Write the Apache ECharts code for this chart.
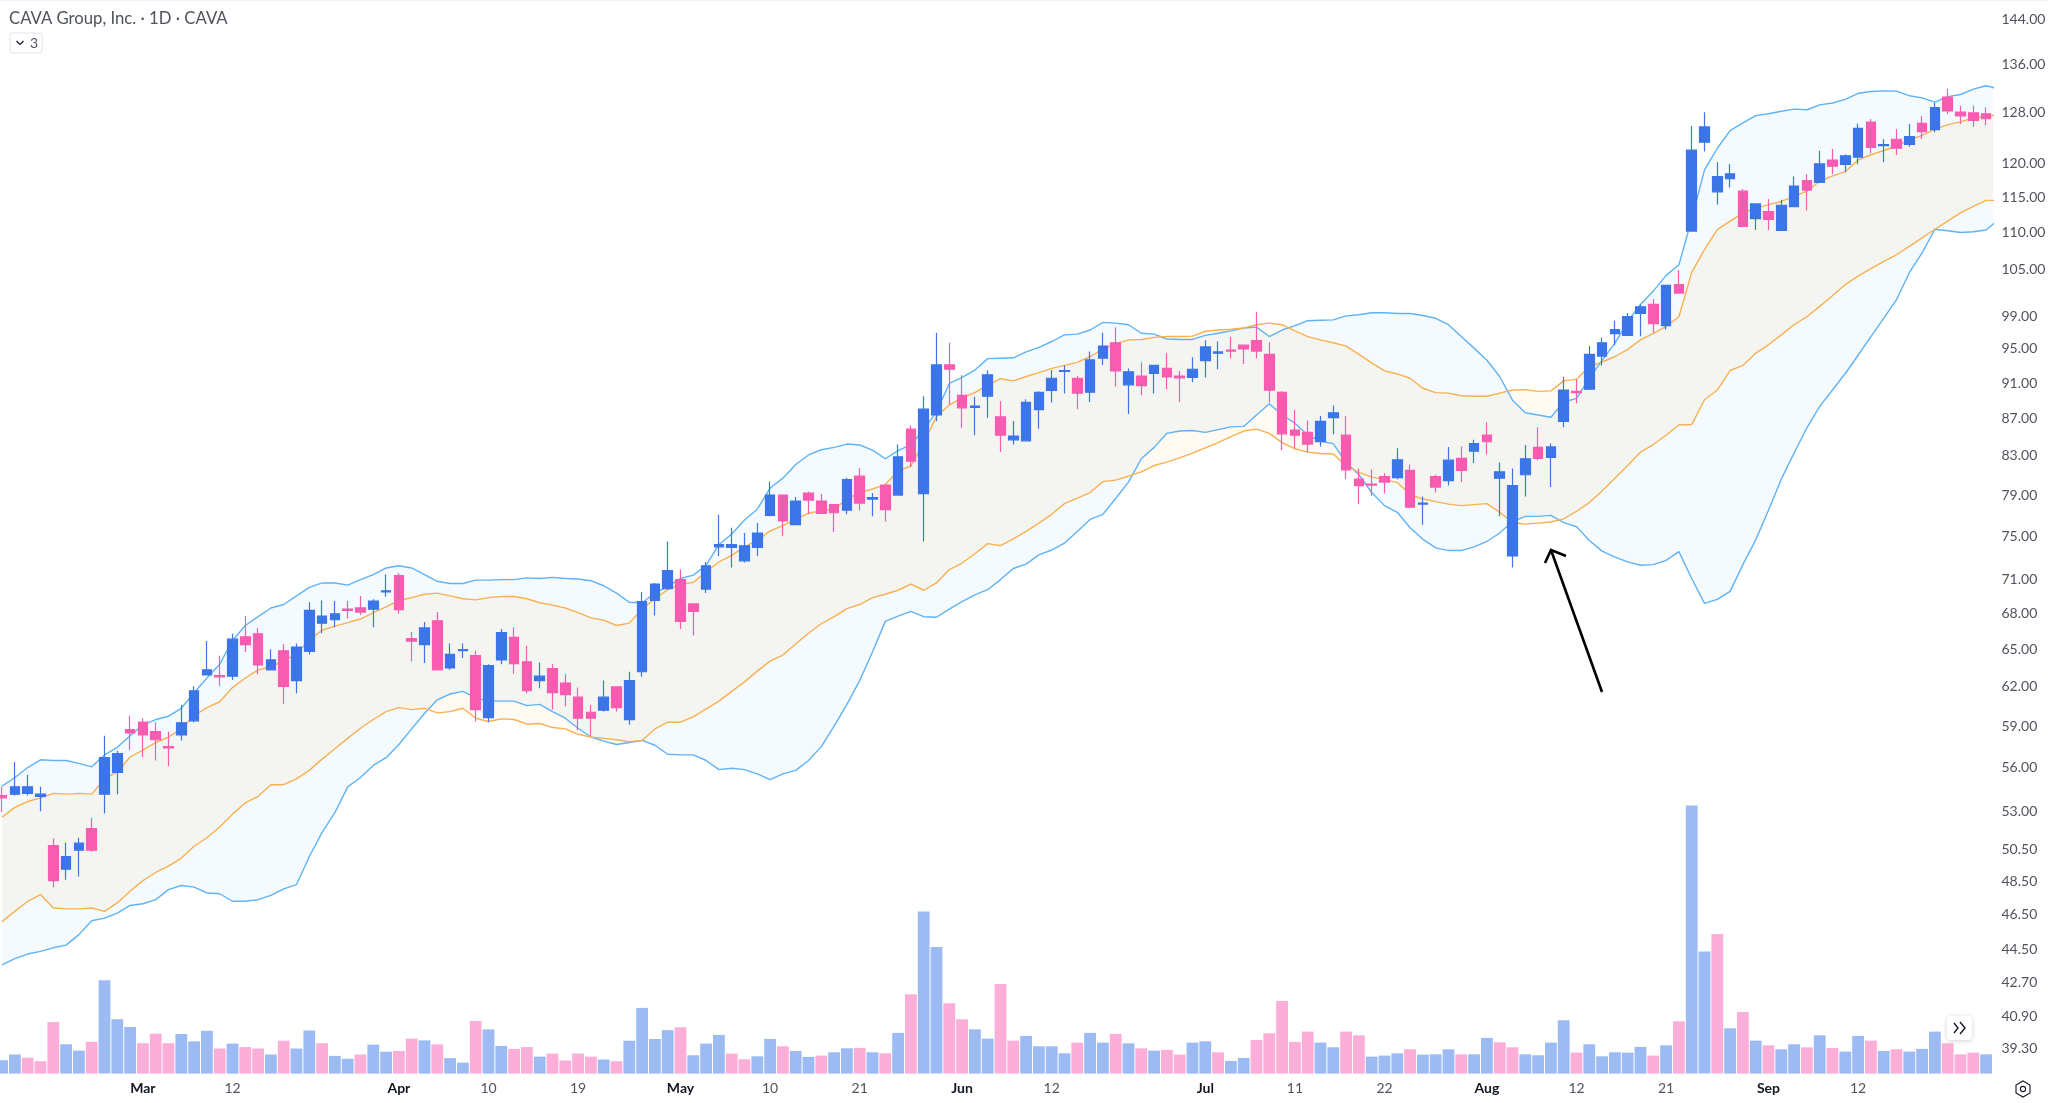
<!DOCTYPE html>
<html>
<head>
<meta charset="utf-8">
<title>CAVA Group, Inc.</title>
<style>
    html, body { margin: 0; padding: 0; background: #fff; }
    #chart { width: 2048px; height: 1103px; }
</style>
<script src="https://cdn.jsdelivr.net/npm/echarts@6/dist/echarts.min.js"></script>
</head>
<body>
<div id="chart"></div>
<script>
const opens = [54.05,54.15,54.2,54,50.75,49.25,50.45,51.85,54.15,55.65,
    58.75,59.3,58.6,57.5,58.35,59.4,62.95,62.9,62.85,66.05,
    66.3,63.35,64.9,62.5,64.85,67.2,67.5,68.4,68.5,68.4,
    69.9,71.35,65.9,65.4,67.4,63.5,64.9,64.5,59.65,64.15,
    66,64,62.5,63.45,62.3,61.2,60.05,60.2,62,59.5,
    63.2,69.15,70.2,71,68.85,70.15,74,73.95,72.7,73.95,
    77,79,76.1,79.2,78.4,78.05,77.5,80.9,78.6,80,
    79,85.85,79.15,87.4,93.1,89.6,88.25,89.5,87.2,84.7,
    84.6,88,90.15,92.35,91.55,89.95,93.9,95.75,90.8,91.8,
    92.1,92.7,91.8,91.65,93.6,94.5,94.85,95.45,96,94.35,
    89.95,85.75,85.5,84.5,87.1,85.2,80.6,80.1,80.85,80.75,
    81.5,78.1,80.85,80.45,82.75,83.5,85.2,80.7,73.15,81.05,
    83.9,82.85,86.7,90.05,90.3,94.15,96.85,96.65,99.35,100.5,
    97.85,103.05,110.25,123.35,115.85,117.8,115.95,112,113,110.35,
    113.7,117.5,117.25,120.6,119.95,121.05,126.5,122.8,123.8,123,
    126.3,125.3,130.55,128.1,128,127.85];
const closes = [53.9,54.65,54.65,54.15,48.55,50.05,50.9,50.45,56.7,57,
    58.5,58.35,58,57.4,59.25,61.7,63.35,62.8,65.85,65.4,
    63.75,64.15,62.05,65.2,68.3,67.8,68,68.3,68.15,69.1,
    70,68.35,65.7,66.8,63.35,64.6,65,60.25,63.7,66.4,
    63.85,61.7,62.85,61.55,61.4,59.6,59.6,61.2,60.4,62.5,
    69.05,70.6,71.8,67.35,68.2,72.25,74.2,74.2,74.1,75.3,
    79,76.45,78.4,78.5,77.2,77.25,80.55,78.2,78.75,77.55,
    82.9,82.45,88.05,93.1,92.6,88.2,88.4,91.95,85.2,85.1,
    88.8,89.95,91.55,92.45,89.85,93.7,95.35,92.4,92.3,90.7,
    93.05,91.7,91.6,92.6,95.25,94.65,94.75,95,94.75,90.2,
    85.35,85.2,84.25,86.7,87.65,81.55,79.95,80,80.3,82.6,
    77.8,78.2,79.8,82.55,81.5,84.3,84.5,81.35,79.95,82.7,
    82.75,83.95,90.2,89.9,94.35,95.75,97.35,98.95,100.2,98.1,
    102.95,101.95,122.1,125.75,118.1,118.5,110.9,114.1,111.9,113.9,
    116.7,116.1,120,119.65,121.25,125.5,122.55,122.95,122.4,124.2,
    125,128.85,128.3,127.5,126.8,127.05];
const highs = [54.65,56.4,55.5,54.65,51.2,50.95,51.25,52.55,58.3,57.2,
    59.8,59.6,59.3,58.6,60.6,62.05,65.7,64.5,66.3,67.8,
    66.8,65,65.45,65.5,69,69.15,69.1,69.1,69.55,69.25,
    71.45,71.6,66.45,67.3,68.15,65.5,65.5,64.9,63.8,66.7,
    66.85,65.3,63.95,63.8,63,61.95,60.6,62.5,62,63.2,
    69.9,70.7,74.5,71.9,68.9,72.6,77.05,75.8,75.3,76.25,
    80.35,79,78.8,79.35,79.1,78.05,80.75,81.75,79.2,80,
    84.2,86.25,89.5,96.95,95.75,91.9,89.45,92.45,88.95,86.75,
    89.15,90.05,92.5,93.05,91.8,94.7,96.95,97.65,92.7,93.4,
    93.1,94.5,92.4,94,96.05,95.9,96.45,95.45,99.55,95.8,
    90.05,87.95,86.8,87.3,88.45,87.3,81.7,81.6,81.2,83.8,
    82.1,78.85,81.05,83.95,84,84.7,86.6,82.3,81.7,84.15,
    86.05,84.3,91.7,91.45,95.35,96.4,98.45,99.4,100.5,101.2,
    102.95,104.95,125.9,128.1,120.25,119.95,116.25,114.1,114.8,114.7,
    118.1,118.45,122,122.3,121.45,126.25,127,123.8,125.4,126.15,
    127.5,129.65,131.95,129.15,129.15,128.9];
const lows = [52.95,54.05,54.05,53,48.15,48.6,48.8,50.35,52.85,54.15,
    57.25,56.75,56.5,56.1,57.95,59.3,62.95,62.1,62.55,64.8,
    63,63.3,60.7,61.5,64.6,66.35,66.85,67.6,67.9,66.85,
    69.5,68,64.05,63.9,63.3,63.35,64.3,59.35,59.3,63.8,
    63.05,61.5,61.9,60.25,60.5,58.7,58.3,60.1,60.1,59.1,
    62.8,67.85,70.1,66.7,66.15,69.8,73.15,72.1,72.55,73.15,
    76.9,75,76.1,77.1,77.2,75.4,77.1,77.5,76.9,76.4,
    79,81.85,74.5,86.7,88.6,86,85.2,87.1,83.4,84.2,
    84.6,85.9,88.8,89.8,88.05,88.85,93.1,90.6,87.5,89.6,
    89.8,90.3,88.85,91.1,91.65,92.6,93.9,93.2,93.85,88.8,
    83.6,83.8,83.35,84,85.3,80.6,78.1,78.9,79.15,80.6,
    77.7,76.1,79.25,79.95,80.3,82.25,83.15,76.9,72.1,78.85,
    82.55,79.8,86.05,88.7,90.3,93.05,95.45,96.65,96.55,96.95,
    97.35,101.95,110.15,121.9,114,116.5,110.9,110.4,110.4,110.35,
    113.7,113.15,117.25,118.45,118.75,119.95,121.65,120.25,121.35,122.65,
    123.85,124.9,127.8,126.2,125.8,126];

const volumes = [1.34,1.91,1.59,1.24,5.16,2.93,2.3,3.18,9.33,5.44,
    4.66,3.04,3.99,3.04,3.96,3.22,4.28,2.51,3,2.65,
    2.51,1.91,3.29,2.51,4.31,3.04,1.77,1.48,1.91,2.9,
    2.19,2.26,3.5,3.32,2.93,1.55,1.1,5.27,4.42,2.76,
    2.47,2.65,1.7,2.01,1.31,2.01,1.7,1.41,1.24,3.29,
    6.57,3.46,4.35,4.63,1.83,3,3.87,2,1.43,1.73,
    3.47,2.73,2.27,1.67,1.8,2.13,2.53,2.57,2.13,2.03,
    4.07,7.93,16.2,12.67,7.03,5.43,4.43,3.5,8.97,3.3,
    3.77,2.73,2.73,2.03,3.1,4.07,3.1,3.97,3.03,2.53,
    2.3,2.37,1.9,3.1,3.23,2.13,1.27,1.57,3.37,4.03,
    7.27,3.17,4.2,3.1,2.63,4.2,3.83,1.7,1.8,2.03,
    2.43,1.9,1.93,2.43,1.93,1.93,3.57,3.13,2.63,1.93,
    1.83,3.1,5.33,2.1,2.93,1.73,2.13,2.1,2.67,1.8,
    2.83,5.23,26.8,12.2,13.97,4.53,6.17,3.3,2.83,2.43,
    2.93,2.63,3.83,2.57,2.2,3.77,3.3,2.27,2.43,2.2,
    2.47,4.2,3.03,1.93,2.1,1.93];
// 1 = blue bar, 0 = pink bar (follows close against previous close, not the candle)
const volumeUp = [1,1,0,0,0,1,1,0,1,1,1,0,0,0,1,1,1,0,1,0,0,1,0,1,1,0,1,1,0,1,1,0,0,1,0,1,1,0,1,1,0,0,1,0,0,0,0,1,0,1,1,1,1,
    0,1,1,1,0,0,1,1,0,1,1,0,1,1,0,1,0,1,0,1,1,0,0,1,1,0,0,1,1,1,1,0,1,1,0,1,0,1,0,0,1,1,0,1,1,0,0,0,0,0,1,1,0,0,
    1,1,1,0,1,1,1,0,1,1,0,0,1,1,1,1,0,1,1,1,1,1,0,1,0,1,1,0,1,0,1,0,1,1,0,1,0,1,1,0,1,0,1,1,1,0,0,0,1];

const bbUpper = [54.7,55.3,56,56.55,56.5,56.5,56.3,56.05,56.9,57.45,
    58.3,59.1,59.5,59.75,60.35,61.55,62.7,63.8,65.75,67,
    67.75,68.5,68.8,69.55,70.3,70.7,70.7,70.5,71,71.45,
    72.05,72.25,72.05,71.45,70.85,70.65,70.65,70.95,70.95,71,
    71,71.15,71.1,71.2,71.1,71.05,70.9,70.45,69.8,69,
    68.95,69.8,70.4,71.1,71.4,72.3,74.2,75.2,76.55,77.6,
    79.7,80.7,82.1,83.1,83.65,83.9,84.25,84.15,83.6,82.7,
    83.55,84.2,85.8,87.75,90.95,91.65,92.5,93.85,93.9,93.95,
    94.65,95.2,95.9,96.7,96.8,97.3,98.25,98.15,97.95,96.9,
    96.8,96.2,96.15,96.15,96.65,96.9,97.2,97.55,97.65,96.5,
    97.3,97.85,98.45,98.5,98.55,99.05,99.2,99.45,99.45,99.35,
    99.35,99.1,98.75,97.95,96.5,95.1,93.65,91.75,89.05,87.65,
    87.4,87.15,88.85,89.25,91.55,93.65,95.7,98.35,100.5,102.2,
    104.25,105.65,111.95,119.1,122.4,125.15,126.4,127.55,127.85,128.25,
    128.6,128.5,129.3,129.6,130.2,131.2,131.5,131.6,131.55,130.8,
    130.45,129.75,130.65,131,131.9,132.45,131.9];
const bbLower = [43.65,44,44.25,44.4,44.6,44.75,45.35,46.15,46.3,46.6,
    47.05,47.15,47.4,48,48.25,48.15,47.8,47.75,47.3,47.3,
    47.4,47.65,48.05,48.3,50.05,51.6,52.9,54.65,55.3,56.15,
    56.7,57.65,58.8,59.95,61,61.45,61.65,61.15,60.9,60.9,
    60.9,60.55,60.65,60.1,59.6,58.85,58.2,57.9,57.65,57.8,
    57.95,57.6,56.95,56.9,56.9,56.5,55.85,55.95,55.85,55.55,
    55.15,55.55,55.8,56.5,57.5,59,60.65,62.5,64.8,67.35,
    67.8,68.2,67.75,67.7,68.4,69.05,69.65,70.1,71,72,
    72.4,73.25,73.7,74.35,75.45,76.6,77.1,78.65,80.3,82.7,
    83.9,85.4,85.65,85.7,85.5,85.8,86.1,86.15,87.4,88.65,
    87.4,86.5,85.2,84.55,84.3,82.3,81.05,79.25,77.95,77.3,
    75.8,74.7,73.9,73.65,73.65,74,74.5,75.3,76.4,76.9,
    76.9,77,76.3,75.9,74.6,73.6,73.05,72.6,72.3,72.35,
    72.75,73.55,71.1,68.9,69.25,69.95,72.35,74.65,77.5,80.6,
    83.3,86,88.35,90.2,92.1,94.25,96.5,98.75,101.1,104.6,
    107.25,110.5,110.3,110.05,110.15,110.4,111.9];
const kcUpper = [52.6,53.25,53.65,53.9,54.2,54.15,54.2,54.15,55.2,55.7,
    56.75,57.25,57.8,58.2,58.8,59.8,60.4,60.85,61.95,62.7,
    63.35,63.6,64.1,64.6,65.8,66.6,66.95,67.25,67.55,68.1,
    68.6,69.15,69.4,69.7,69.8,69.55,69.3,69.2,69.4,69.5,
    69.5,69.3,68.95,68.75,68.5,68.1,67.65,67.45,67,67.2,
    68.4,69.3,70.1,70.6,70.75,71.7,72.6,73.2,74,74.6,
    75.5,76,76.65,77.2,77.45,77.6,78.6,79.25,79.6,80.05,
    81.45,81.95,84.4,87.25,88.5,89.35,89.9,90.75,91.5,91.25,
    91.75,92.2,92.7,93.05,93.4,94.1,94.95,95.65,96.1,96.15,
    96.4,96.5,96.5,96.55,97.15,97.3,97.4,97.55,97.95,98.15,
    97.95,97.2,96.5,96.1,95.75,95.35,94.35,93.35,92.4,92.05,
    91.55,90.4,89.9,89.85,89.55,89.5,89.5,89.85,90.2,90.25,
    90.05,90.1,91.25,91.45,92.9,93.45,94.1,94.95,96.1,96.9,
    97.75,98.95,104.65,107.7,110.45,111.65,112.8,113.5,114,114.45,
    115.2,115.95,117.4,118.2,118.85,120.6,121.4,122.05,122.75,123.7,
    124.4,125.4,126.1,126.55,127.2,127.45,127.7];
const kcLower = [46.1,46.7,47.3,47.7,46.9,46.85,46.85,46.9,46.7,47.2,
    47.9,48.55,49.05,49.45,49.95,50.7,51.25,51.95,52.8,53.55,
    54,54.8,54.8,55.2,55.8,56.6,57.35,58.1,58.85,59.5,
    60.1,60.4,60.25,60.35,60,60.1,60.35,59.6,59.35,59.55,
    59.5,59.15,59.2,58.9,58.8,58.4,58.2,58.1,58,57.85,
    57.95,58.8,59.3,59.3,59.7,60.3,60.9,61.65,62.4,63.25,
    64.05,64.55,65.45,66.35,67.15,67.75,68.45,68.8,69.4,69.7,
    70.05,70.6,70.05,70.7,71.9,72.5,73.35,74.3,74.1,74.75,
    75.45,76.25,77.1,78.15,78.7,79.25,80.35,80.5,80.9,81.35,
    82,82.35,82.8,83.3,83.85,84.4,85.05,85.65,85.85,85.4,
    84.4,83.75,83.4,83.25,83.2,81.95,81.3,80.8,80.55,80.25,
    79.05,78.6,78.35,78.1,77.95,78.05,78.15,77.3,76.3,76.15,
    76.25,76.35,76.65,77.4,78.25,79.4,80.7,82,83.4,84.2,
    85.2,86.3,86.35,89.1,90.2,92.45,93.05,94.5,95.5,96.7,
    97.95,98.95,100.25,101.6,103.05,104.15,105.15,106.1,107,108.15,
    109.3,110.5,111.65,112.8,113.75,114.6,114.6];

const priceTicks = [144,136,128,120,115,110,105,99,95,91,87,83,79,75,71,68,65,62,59,56,53,50.5,48.5,46.5,44.5,42.7,40.9,39.3];
const dateTickBars = [11,18,31,38,45,53,60,67,75,82,94,101,108,116,123,130,138,145];
const dateTickLabels = ['Mar','12','Apr','10','19','May','10','21','Jun','12','Jul','11','22','Aug','12','21','Sep','12'];
const monthLabels = ['Mar','Apr','May','Jun','Jul','Aug','Sep'];

const BLUE = '#3b75e8';
const PINK = '#f75cb0';
const FONT = 'Lato';

const chart = echarts.init(document.getElementById('chart'), null, {renderer: 'canvas'});

// one category per bar, the extra one only carries the indicators past the right edge
const categories = bbUpper.map(function (v, i) { return String(i); });
const candles = opens.map(function (o, i) { return [o, closes[i], lows[i], highs[i]]; });
const volumeBars = volumes.map(function (v, i) {
    return {value: v, itemStyle: {color: volumeUp[i] ? '#9dbbf3' : '#fbaed8'}};
});

function lineSeries(name, data, color) {
    return {
        name: name, type: 'line', data: data, xAxisIndex: 0, yAxisIndex: 0,
        showSymbol: false, silent: true, z: 2,
        lineStyle: {color: color, width: 1.4}
    };
}

// fill between two lines: invisible lower line + stacked difference
function bandSeries(name, lower, upper, fill) {
    const diff = upper.map(function (u, i) { return +(u - lower[i]).toFixed(2); });
    const base = {type: 'line', stack: name, xAxisIndex: 0, yAxisIndex: 0, showSymbol: false, silent: true, z: 1, lineStyle: {width: 0}};
    return [
        Object.assign({}, base, {name: name + ' base', data: lower}),
        Object.assign({}, base, {name: name + ' fill', data: diff, areaStyle: {color: fill, opacity: 1}})
    ];
}

const option = {
    animation: false,
    backgroundColor: '#fff',
    textStyle: {fontFamily: FONT},
    title: {
        text: 'CAVA Group, Inc. · 1D · CAVA',
        left: 9, top: 10, padding: 0,
        textStyle: {color: '#50535e', fontSize: 16.7, fontWeight: 'normal', fontFamily: FONT}
    },
    grid: [
        {left: -4.3, top: 0, width: 1996.8, height: 1073.6, outerBoundsMode: 'none'},
        {left: -4.3, top: 773.6, width: 1996.8, height: 300, outerBoundsMode: 'none'}
    ],
    xAxis: [
        {type: 'category', gridIndex: 0, data: categories, min: 0, max: 155, show: false},
        {
            type: 'category', gridIndex: 1, data: categories, min: 0, max: 155,
            axisLine: {show: false}, axisTick: {show: false},
            axisLabel: {
                interval: function (i) { return dateTickBars.indexOf(i) >= 0; },
                formatter: function (v, i) {
                    const label = dateTickLabels[dateTickBars.indexOf(i)];
                    return monthLabels.indexOf(label) >= 0 ? '{m|' + label + '}' : label;
                },
                margin: 8, color: '#50535e', fontSize: 14, fontFamily: FONT, hideOverlap: false,
                rich: {m: {color: '#131722', fontSize: 14, fontWeight: 'bold', fontFamily: FONT}}
            }
        }
    ],
    yAxis: [
        {
            type: 'log', gridIndex: 0, position: 'right', logBase: Math.E,
            min: 38.05, max: 147.6, splitLine: {show: false},
            axisLine: {show: false}, axisTick: {show: false},
            axisLabel: {
                customValues: priceTicks, inside: false, margin: 9, align: 'left',
                color: '#50535e', fontSize: 14, fontFamily: FONT,
                formatter: function (v) { return Number(v).toFixed(2); }
            }
        },
        {type: 'value', gridIndex: 1, min: 0, max: 30, show: false}
    ],
    series: [].concat(
        bandSeries('bb', bbLower, bbUpper, 'rgba(33,150,243,0.05)'),
        bandSeries('kc', kcLower, kcUpper, 'rgba(255,152,0,0.05)'),
        [
            lineSeries('bb upper', bbUpper, '#5fb3f6'),
            lineSeries('bb lower', bbLower, '#5fb3f6'),
            lineSeries('kc upper', kcUpper, '#f9b050'),
            lineSeries('kc lower', kcLower, '#f9b050'),
            {
                name: 'volume', type: 'bar', data: volumeBars, xAxisIndex: 1, yAxisIndex: 1,
                barWidth: 11.8, silent: true, z: 0
            },
            {
                name: 'CAVA', type: 'candlestick', data: candles, xAxisIndex: 0, yAxisIndex: 0,
                barWidth: 10, silent: true, z: 3,
                itemStyle: {color: BLUE, color0: PINK, borderColor: BLUE, borderColor0: PINK, borderWidth: 1.2}
            }
        ]
    ),
    graphic: [
        {type: 'rect', shape: {x: 0, y: 0, width: 2048, height: 1}, style: {fill: '#f0f3fa'}, silent: true},
        // collapsed indicators button
        {type: 'rect', shape: {x: 10, y: 33, width: 32, height: 20, r: 3}, style: {fill: '#fff', stroke: '#e0e3eb', lineWidth: 1}},
        {type: 'polyline', shape: {points: [[16.5, 41], [20, 44.5], [23.5, 41]]}, style: {stroke: '#131722', lineWidth: 1.2, fill: null}},
        {type: 'text', style: {x: 30, y: 36, text: '3', fill: '#50535e', fontSize: 14, fontFamily: FONT}},
        // arrow annotation
        {type: 'polyline', shape: {points: [[1602, 692], [1551, 550]]}, style: {stroke: '#000', lineWidth: 2.6, fill: null}, z: 10},
        {type: 'polyline', shape: {points: [[1545, 563], [1551, 550], [1566, 556]]}, style: {stroke: '#000', lineWidth: 2.6, fill: null}, z: 10},
        // scroll to latest button
        {type: 'rect', shape: {x: 1947, y: 1016, width: 25, height: 24, r: 4}, style: {fill: '#fff', shadowBlur: 5, shadowColor: 'rgba(0,0,0,0.18)', shadowOffsetY: 1}, z: 10},
        {type: 'polyline', shape: {points: [[1954, 1023], [1958, 1028], [1954, 1033]]}, style: {stroke: '#131722', lineWidth: 1.4, fill: null}, z: 11},
        {type: 'polyline', shape: {points: [[1960, 1022], [1965, 1028], [1960, 1034]]}, style: {stroke: '#131722', lineWidth: 1.4, fill: null}, z: 11},
        // settings icon
        {type: 'polygon', shape: {points: [[2023, 1081], [2030, 1085], [2030, 1093], [2023, 1097], [2016, 1093], [2016, 1085]]}, style: {fill: null, stroke: '#131722', lineWidth: 1.1}},
        {type: 'circle', shape: {cx: 2023, cy: 1089, r: 2.6}, style: {fill: null, stroke: '#131722', lineWidth: 1.1}}
    ]
};

chart.setOption(option);
</script>
</body>
</html>
